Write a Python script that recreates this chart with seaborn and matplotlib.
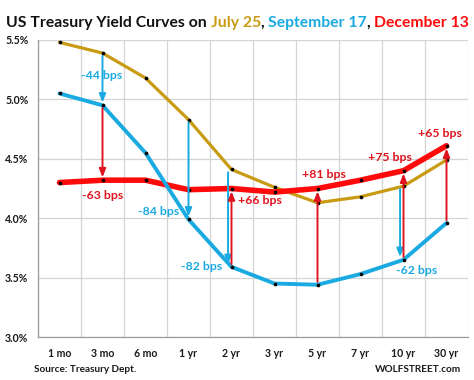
import matplotlib
matplotlib.use("Agg")
import matplotlib.pyplot as plt
import seaborn as sns
import pandas as pd

# ---------------- data ----------------
maturities = ["1 mo", "3 mo", "6 mo", "1 yr", "2 yr", "3 yr", "5 yr", "7 yr", "10 yr", "30 yr"]
july_25 = [5.48, 5.39, 5.18, 4.83, 4.41, 4.26, 4.13, 4.18, 4.27, 4.49]
sep_17 = [5.05, 4.95, 4.55, 3.99, 3.59, 3.45, 3.44, 3.53, 3.65, 3.96]
dec_13 = [4.30, 4.32, 4.32, 4.24, 4.25, 4.22, 4.25, 4.32, 4.40, 4.61]
y_ticks = [3.0, 3.5, 4.0, 4.5, 5.0, 5.5]
y_tick_labels = ["3.0%", "3.5%", "4.0%", "4.5%", "5.0%", "5.5%"]

# July -> September changes (blue arrows) and September -> December changes (red arrows)
blue_maturities = ["3 mo", "1 yr", "2 yr", "10 yr"]
blue_labels = ["-44 bps", "-84 bps", "-82 bps", "-62 bps"]
red_maturities = ["3 mo", "2 yr", "5 yr", "10 yr", "30 yr"]
red_labels = ["-63 bps", "+66 bps", "+81 bps", "+75 bps", "+65 bps"]

# ---------------- style ----------------
GOLD = "#C89B12"
BLUE = "#1AAAE2"
RED = "#FF0A0A"
ARROW_RED = "#E0141E"
GRID = "#D4D4D4"
FONT = ["Lato", "DejaVu Sans"]

sns.set_style("white")
plt.rcParams["font.family"] = FONT

fig = plt.figure(figsize=(4.74, 3.80), dpi=100)
ax = fig.add_axes([38 / 474, 1 - 337 / 380, 430 / 474, 297 / 380])

pos = list(range(len(maturities)))
df = pd.DataFrame({"pos": pos * 3,
                   "yield": july_25 + sep_17 + dec_13,
                   "curve": ["July 25"] * 10 + ["September 17"] * 10 + ["December 13"] * 10})

line_styles = {"July 25": (GOLD, 2.3, 2), "December 13": (RED, 4.0, 3), "September 17": (BLUE, 2.8, 4)}
for name, (col, lw, z) in line_styles.items():
    sub = df[df["curve"] == name]
    sns.lineplot(data=sub, x="pos", y="yield", color=col, linewidth=lw, ax=ax,
                 zorder=z, legend=False)
    sns.scatterplot(data=sub, x="pos", y="yield", color="black", s=7, linewidth=0,
                    ax=ax, zorder=z + 0.5, legend=False)

idx = {m: i for i, m in enumerate(maturities)}

def arrow(x, y0, y1, col, z=6):
    ax.annotate("", xy=(x, y1), xytext=(x, y0),
                arrowprops=dict(arrowstyle="-|>,head_length=0.5,head_width=0.2",
                                color=col, lw=1.4, shrinkA=2, shrinkB=2),
                zorder=z)

# blue arrows
for m in blue_maturities:
    i = idx[m]
    off = -0.08 if m in ("2 yr", "10 yr") else 0.0
    arrow(i + off, july_25[i], sep_17[i], BLUE)
# red arrows
for m in red_maturities:
    i = idx[m]
    arrow(i, sep_17[i], dec_13[i], ARROW_RED)

label_pos = {
    "-44 bps": (0.99, 5.205, "center"),
    "-84 bps": (2.78, 4.06, "right"),
    "-82 bps": (3.31, 3.59, "center"),
    "-62 bps": (8.31, 3.556, "center"),
    "-63 bps": (1.01, 4.187, "center"),
    "+66 bps": (4.15, 4.153, "left"),
    "+81 bps": (6.15, 4.372, "center"),
    "+75 bps": (7.69, 4.515, "center"),
    "+65 bps": (8.85, 4.709, "center"),
}
for lab in blue_labels:
    x, y, ha = label_pos[lab]
    ax.text(x, y, lab, color=BLUE, fontsize=8.8, fontweight="bold", ha=ha, va="center", zorder=7)
for lab in red_labels:
    x, y, ha = label_pos[lab]
    ax.text(x, y, lab, color=ARROW_RED, fontsize=8.8, fontweight="bold", ha=ha, va="center", zorder=7)

# axes
ax.set_xlim(-0.5, len(maturities) - 0.5)
ax.set_ylim(3.0, 5.5)
ax.set_xticks(pos)
ax.set_xticklabels(maturities, fontsize=7.6, fontweight="bold", color="#1a1a1a")
ax.set_xticks([p - 0.5 for p in pos] + [len(maturities) - 0.5], minor=True)
ax.set_yticks(y_ticks)
ax.set_yticklabels(y_tick_labels, fontsize=7.6, fontweight="bold", color="#1a1a1a")
ax.tick_params(axis="x", which="major", length=0, pad=8)
ax.tick_params(axis="x", which="minor", length=4, color="#9a9a9a", width=0.8)
ax.tick_params(axis="y", length=4, color="#9a9a9a", width=0.8, pad=3)
ax.grid(False)
ax.xaxis.grid(True, which="minor", color=GRID, linewidth=0.9)
ax.yaxis.grid(True, which="major", color=GRID, linewidth=0.9)
ax.set_axisbelow(True)
ax.set_xlabel("")
ax.set_ylabel("")
for s in ("top", "right"):
    ax.spines[s].set_visible(False)
for s in ("left", "bottom"):
    ax.spines[s].set_color("#9a9a9a")
    ax.spines[s].set_linewidth(0.9)

# title with coloured pieces, fitted to the reference width
fig.canvas.draw()
renderer = fig.canvas.get_renderer()
pieces = [("US Treasury Yield Curves on ", "#111111"), ("July 25", GOLD), (", ", "#111111"),
          ("September 17", BLUE), (", ", "#111111"), ("December 13", RED)]
probe = fig.text(0, 0, "".join(p[0] for p in pieces), fontsize=12, fontweight="bold")
w = probe.get_window_extent(renderer=renderer).width
probe.remove()
title_size = 12 * 462 / w
x_px = 6
for txt, col in pieces:
    t = fig.text(x_px / 474, 1 - 27 / 380, txt, color=col, fontsize=title_size, fontweight="bold",
                 ha="left", va="baseline")
    bb = t.get_window_extent(renderer=renderer)
    x_px += bb.width

fig.text(34 / 474, 1 - 369 / 380, "Source: Treasury Dept.", fontsize=7.2, fontweight="bold",
         color="#1a1a1a", ha="left", va="center")
fig.text(461 / 474, 1 - 369 / 380, "WOLFSTREET.com", fontsize=7.2, fontweight="bold",
         color="#1a1a1a", ha="right", va="center")

fig.savefig("out.png", dpi=100)
